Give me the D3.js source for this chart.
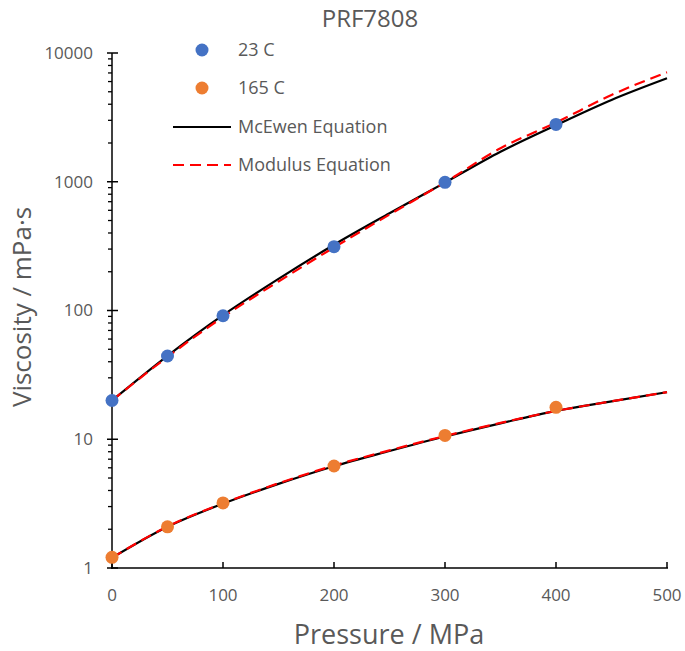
<!DOCTYPE html>
<html>
<head>
<meta charset="utf-8">
<script src="https://cdn.jsdelivr.net/npm/d3@7"></script>
<style>
  body { margin: 0; background: #fff; }
  text { font-family: "Open Sans", sans-serif; fill: #595959; }
</style>
</head>
<body>
<svg width="685" height="651"></svg>
<script>
const svg = d3.select('svg');

// measured points
const pressure = [0, 50, 100, 200, 300, 400];
const visc23 = [20, 44.3, 91, 313, 990, 2790];
const visc165 = [1.21, 2.09, 3.2, 6.2, 10.7, 17.7];

// model curves
const curveP = [0, 50, 100, 150, 200, 250, 300, 350, 400, 450, 500];
const mcewen23 = [20, 44.5, 92, 176, 324, 569, 985, 1710, 2750, 4320, 6360];
const modulus23 = [20, 43.6, 89, 168, 309, 556, 990, 1820, 2880, 4720, 7080];
const mcewen165 = [1.2, 2.09, 3.16, 4.5, 6.17, 8.1, 10.5, 13.3, 16.6, 19.7, 23.2];
const modulus165 = [1.2, 2.1, 3.18, 4.55, 6.25, 8.2, 10.6, 13.4, 16.6, 19.7, 23.2];

const xTicks = [0, 100, 200, 300, 400, 500];
const yTicks = [1, 10, 100, 1000, 10000];

const x = d3.scaleLinear().domain([0, 500]).range([112, 667]);
const y = d3.scaleLog().domain([1, 10000]).range([568, 53]);

// minor ticks on y
const minor = [];
yTicks.slice(0, -1).forEach(d => {
  for (let k = 2; k <= 9; k++) minor.push(d * k);
});

svg.append('g')
  .selectAll('line')
  .data(minor)
  .join('line')
  .attr('x1', 108).attr('x2', 112)
  .attr('y1', d => y(d)).attr('y2', d => y(d))
  .attr('stroke', '#000').attr('stroke-width', 1.3);

svg.append('g')
  .selectAll('line')
  .data(yTicks)
  .join('line')
  .attr('x1', 107).attr('x2', 118)
  .attr('y1', d => y(d)).attr('y2', d => y(d))
  .attr('stroke', '#000').attr('stroke-width', 1.5);

svg.append('g')
  .selectAll('line')
  .data(xTicks)
  .join('line')
  .attr('x1', d => x(d)).attr('x2', d => x(d))
  .attr('y1', 568).attr('y2', 562)
  .attr('stroke', '#000').attr('stroke-width', 1.5);

svg.append('line')
  .attr('x1', 112).attr('x2', 112).attr('y1', 53).attr('y2', 569)
  .attr('stroke', '#000').attr('stroke-width', 1.5);
svg.append('line')
  .attr('x1', 111).attr('x2', 668).attr('y1', 568).attr('y2', 568)
  .attr('stroke', '#000').attr('stroke-width', 1.5);

svg.append('g')
  .selectAll('text')
  .data(yTicks)
  .join('text')
  .attr('x', 93)
  .attr('y', d => y(d))
  .attr('dy', '0.35em')
  .attr('text-anchor', 'end')
  .style('font-size', '17px')
  .text(d => d);

svg.append('g')
  .selectAll('text')
  .data(xTicks)
  .join('text')
  .attr('x', d => x(d))
  .attr('y', 601)
  .attr('text-anchor', 'middle')
  .style('font-size', '17px')
  .text(d => d);

// curves
const line = d3.line()
  .x(d => x(d[0]))
  .y(d => y(d[1]))
  .curve(d3.curveMonotoneX);

const zip = (a, b) => a.map((v, i) => [v, b[i]]);

[mcewen23, mcewen165].forEach(vals => {
  svg.append('path')
    .attr('d', line(zip(curveP, vals)))
    .attr('fill', 'none')
    .attr('stroke', '#000')
    .attr('stroke-width', 2.2);
});

[modulus23, modulus165].forEach(vals => {
  svg.append('path')
    .attr('d', line(zip(curveP, vals)))
    .attr('fill', 'none')
    .attr('stroke', '#ff0000')
    .attr('stroke-width', 2.2)
    .attr('stroke-dasharray', '11,6');
});

// points
svg.append('g')
  .selectAll('circle')
  .data(zip(pressure, visc23))
  .join('circle')
  .attr('cx', d => x(d[0])).attr('cy', d => y(d[1]))
  .attr('r', 6.5)
  .attr('fill', '#4472c4');

svg.append('g')
  .selectAll('circle')
  .data(zip(pressure, visc165))
  .join('circle')
  .attr('cx', d => x(d[0])).attr('cy', d => y(d[1]))
  .attr('r', 6.5)
  .attr('fill', '#ed7d31');

// legend
const lg = svg.append('g');
lg.append('circle').attr('cx', 202).attr('cy', 50).attr('r', 6.5).attr('fill', '#4472c4');
lg.append('circle').attr('cx', 202).attr('cy', 88).attr('r', 6.5).attr('fill', '#ed7d31');
lg.append('line').attr('x1', 173).attr('x2', 231).attr('y1', 127).attr('y2', 127)
  .attr('stroke', '#000').attr('stroke-width', 2.2);
lg.append('line').attr('x1', 173).attr('x2', 231).attr('y1', 165).attr('y2', 165)
  .attr('stroke', '#ff0000').attr('stroke-width', 2.2).attr('stroke-dasharray', '11,6');
const labels = ['23 C', '165 C', 'McEwen Equation', 'Modulus Equation'];
const ly = [50, 88, 127, 165];
lg.selectAll('text')
  .data(labels)
  .join('text')
  .attr('x', 238)
  .attr('y', (d, i) => ly[i])
  .attr('dy', '0.35em')
  .style('font-size', '18px')
  .text(d => d);

// titles
svg.append('text')
  .attr('x', 370).attr('y', 27)
  .attr('text-anchor', 'middle')
  .style('font-size', '24px')
  .text('PRF7808');

svg.append('text')
  .attr('x', 389).attr('y', 644)
  .attr('text-anchor', 'middle')
  .style('font-size', '27px')
  .text('Pressure / MPa');

svg.append('text')
  .attr('transform', 'translate(31,307) rotate(-90)')
  .attr('text-anchor', 'middle')
  .style('font-size', '26px')
  .text('Viscosity / mPa·s');
</script>
</body>
</html>
